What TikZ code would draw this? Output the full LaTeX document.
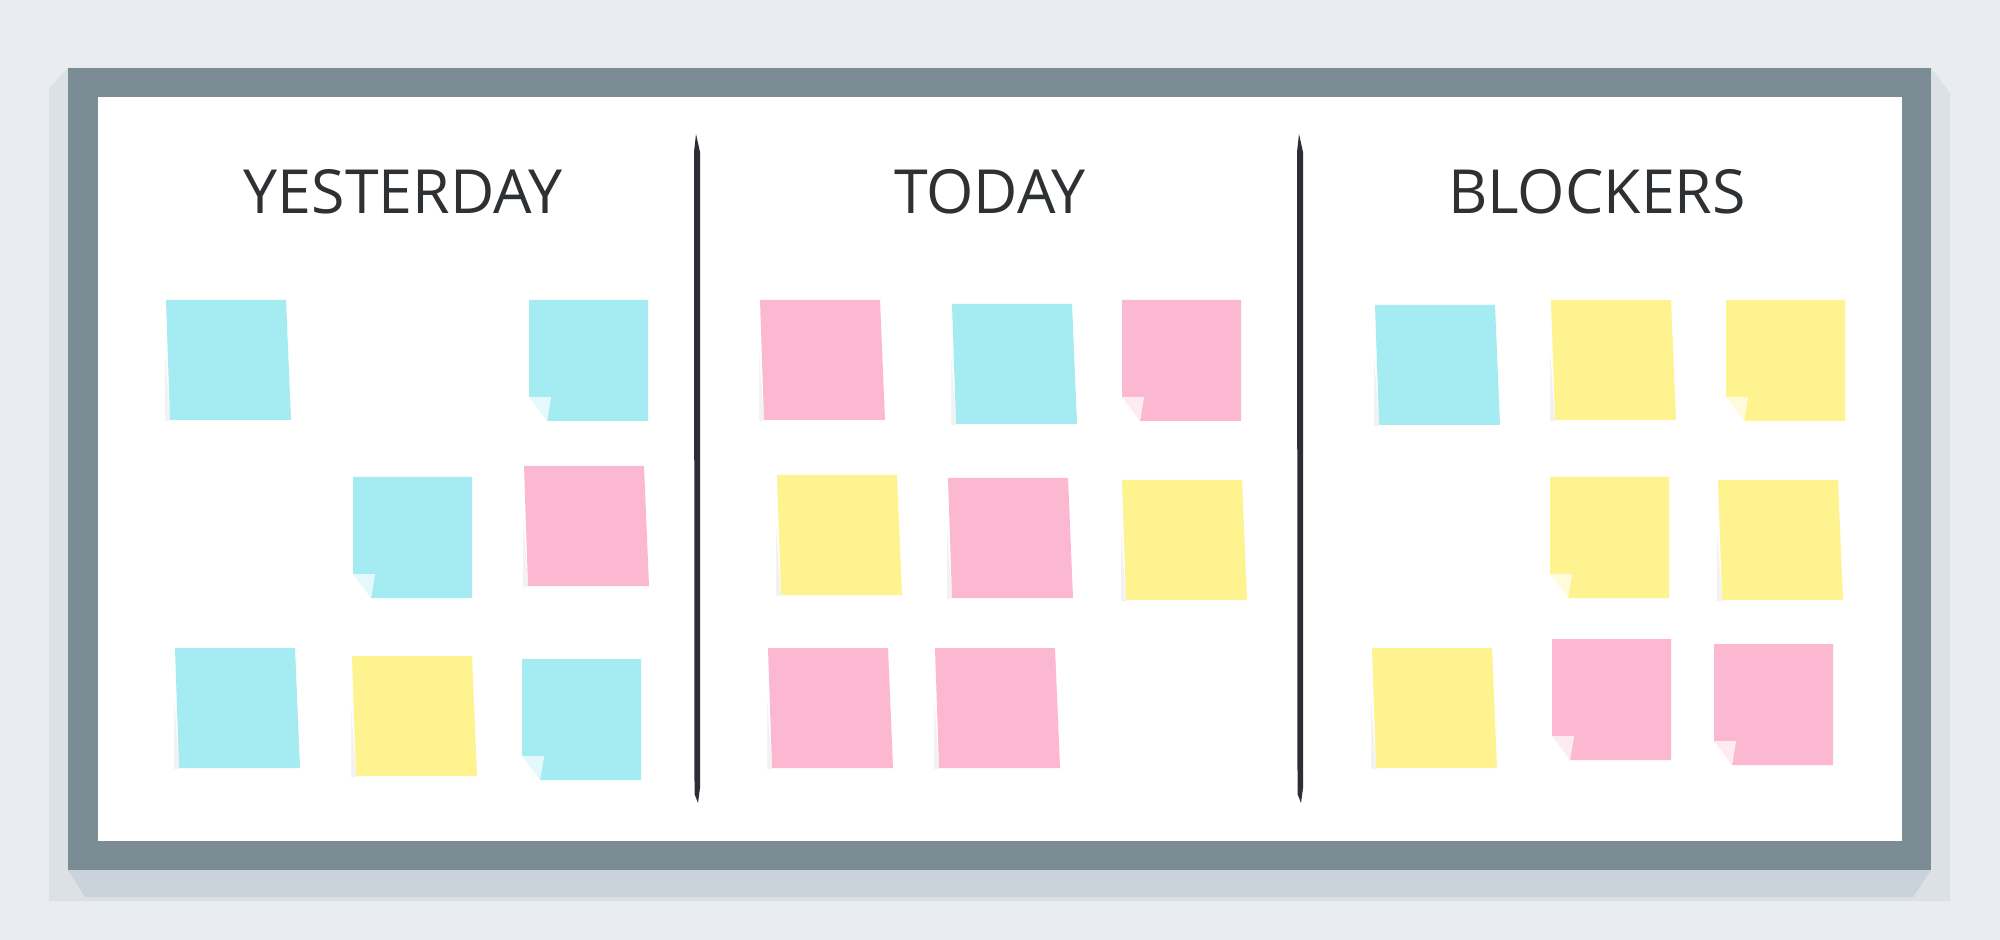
\documentclass[tikz,border=0pt]{standalone}
\usepackage{fontspec}
\setmainfont{Open Sans}
\usepackage{xcolor}
\usepackage{tikz}
\usetikzlibrary{calc}

\definecolor{bgcol}{HTML}{E9EDF2}
\definecolor{shadowlight}{HTML}{DCE1E6}
\definecolor{shadowdark}{HTML}{CAD3DA}
\definecolor{framecol}{HTML}{7B8C95}
\definecolor{linecol}{HTML}{2B2F33}
\definecolor{textcol}{HTML}{2E3134}
\definecolor{notecyan}{HTML}{A4EBF2}
\definecolor{notepink}{HTML}{FCB8D1}
\definecolor{noteyellow}{HTML}{FEF38F}

\begin{document}
\begin{tikzpicture}[x=0.01cm, y=-0.01cm, font=\fontsize{17.3pt}{20pt}\selectfont]
  \useasboundingbox (0,0) rectangle (2000,940);
  % Background
  \fill[bgcol] (0,0) rectangle (2000,940);
  % Board shadow
  \fill[shadowlight] (49,88) -- (68,68) -- (1931,68) -- (1950,93) -- (1950,901) -- (49,901) -- cycle;
  \fill[shadowdark] (68,870) -- (1931,870) -- (1913,897) -- (85,897) -- cycle;
  % Frame and white board
  \fill[framecol] (68,68) rectangle (1931,870);
  \fill[white] (98,97) rectangle (1902,841);

  % Column dividers
  \foreach \x in {697,1300} {
    \fill[linecol] (\x-1,134) -- (\x+3,152) -- (\x+3,788) -- (\x+1,803)
      -- (\x-2.5,794) -- (\x-3,152) -- cycle;
  }

  % Column titles
  \node[anchor=base, text=textcol] (yest) at (403,214) {YESTERDAY};
  \node[anchor=base, text=textcol] (today) at (990,214) {TODAY};
  \node[anchor=base, text=textcol] (block) at (1597,214) {BLOCKERS};

  \def\curlNote#1#2#3{
    \fill[gray!10] (#1-1,#2+50) -- (#1+4,#2+121) -- (#1-1,#2+121) -- cycle;
    \fill[fill=#3] (#1,#2) -- (#1+120,#2) -- (#1+125,#2+120)
      -- (#1+4,#2+120) -- cycle;
  }

  \def\foldNote#1#2#3{
    \fill[fill=#3] (#1,#2) -- (#1+119,#2) -- (#1+119,#2+121) -- (#1+18,#2+121)
      -- (#1+22,#2+97) -- (#1,#2+97) -- cycle;
    \fill[fill=#3!30!white] (#1,#2+97) -- (#1+22,#2+97) -- (#1+18,#2+121) -- cycle;
  }

  % Curled notes (x/y/colour)
  \foreach \x/\y/\c in {166/300/notecyan, 524/466/notepink, 175/648/notecyan,
      352/656/noteyellow, 760/300/notepink, 952/304/notecyan, 777/475/noteyellow,
      948/478/notepink, 1122/480/noteyellow, 768/648/notepink, 935/648/notepink,
      1375/305/notecyan, 1551/300/noteyellow, 1718/480/noteyellow,
      1372/648/noteyellow} {
    \curlNote{\x}{\y}{\c}
  }

  % Notes with a folded corner
  \foreach \x/\y/\c in {529/300/notecyan, 353/477/notecyan, 522/659/notecyan,
      1122/300/notepink, 1726/300/noteyellow, 1550/477/noteyellow,
      1552/639/notepink, 1714/644/notepink} {
    \foldNote{\x}{\y}{\c}
  }
\end{tikzpicture}
\end{document}
